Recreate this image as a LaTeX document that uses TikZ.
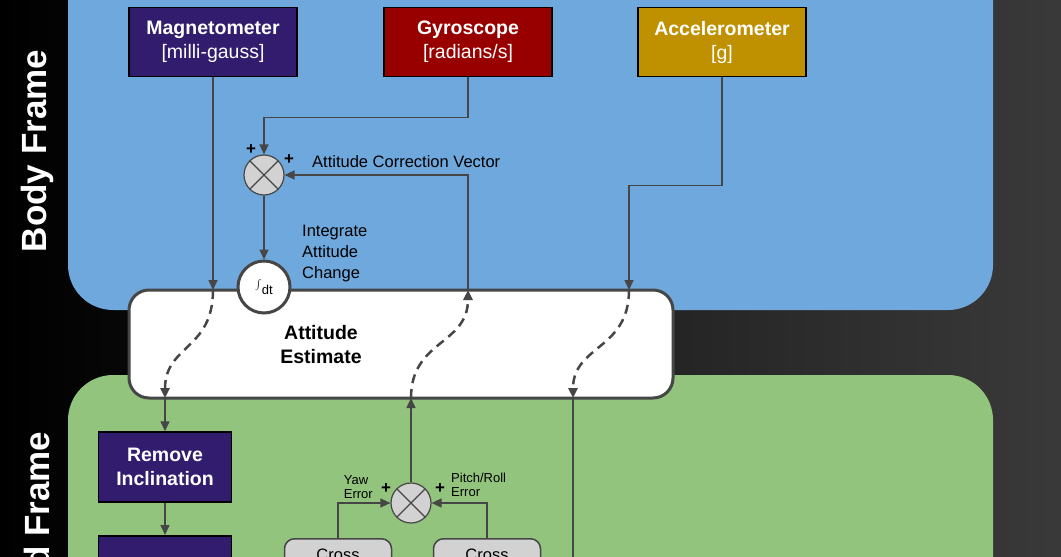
\documentclass[tikz,border=0pt]{standalone}
\usepackage{fontspec}
\setmainfont{Liberation Sans}
\usetikzlibrary{arrows.meta,positioning}
\definecolor{bodyblue}{RGB}{111,168,220}
\definecolor{worldgreen}{RGB}{147,196,125}
\definecolor{magpurple}{RGB}{50,28,110}
\definecolor{gyrored}{RGB}{152,0,0}
\definecolor{accgold}{RGB}{191,144,0}
\definecolor{linegray}{RGB}{70,70,70}
\begin{document}
\begin{tikzpicture}[x=1pt,y=-1pt,
    sensor/.style={draw=black,line width=1.5pt,minimum width=168pt,minimum height=69pt,text=white,align=center,font=\fontsize{19.5}{24}\selectfont},
    block/.style={draw=black,line width=1.5pt,fill=magpurple,minimum width=133pt,minimum height=70pt,text=white,align=center,font=\fontsize{19.5}{24}\selectfont\bfseries},
    cross/.style={draw=linegray,line width=1.5pt,fill=gray!35,rounded corners=10pt,minimum width=107pt,minimum height=60pt},
    summer/.style={circle,draw=linegray,line width=1.2pt,fill=gray!35,minimum size=40pt,inner sep=0pt,
      path picture={\draw[linegray,line width=1.2pt] (path picture bounding box.north west)--(path picture bounding box.south east)
        (path picture bounding box.north east)--(path picture bounding box.south west);}},
    flow/.style={draw=linegray,line width=1.5pt,-{Triangle[length=10pt,width=9pt]}},
    dflow/.style={flow,dash pattern=on 9pt off 6pt,line width=2.5pt},
    lbl/.style={font=\fontsize{16.5}{21}\selectfont,align=left,inner sep=0pt},
    pls/.style={font=\fontsize{17}{17}\selectfont\bfseries,inner sep=0pt},
    sml/.style={font=\fontsize{13}{14}\selectfont,align=left,inner sep=0pt}]
  \useasboundingbox (0,0) rectangle (1061,557);
  \clip (0,0) rectangle (1061,557);
  \shade[left color=black,right color=gray!45!black] (0,0) rectangle (1061,557);

  % frames
  \fill[bodyblue,rounded corners=45pt] (68,-60) rectangle (993,310);
  \fill[worldgreen,rounded corners=45pt] (68,375) rectangle (993,640);
  \node[rotate=90,text=white,font=\fontsize{35}{35}\selectfont\bfseries] (body) at (37,151) {Body Frame};
  \node[rotate=90,text=white,font=\fontsize{35}{35}\selectfont\bfseries,anchor=east] (world) at (37,428) {World Frame};

  % attitude estimate
  \node[draw=linegray,line width=3pt,fill=white,rounded corners=20pt,minimum width=544pt,minimum height=108pt] (est) at (401,344) {};
  \node[font=\fontsize{19.5}{24}\selectfont\bfseries,align=center] (estlbl) at (321,345) {Attitude\\Estimate};

  % sensors
  \node[sensor,fill=magpurple] (mag) at (213,42) {\textbf{Magnetometer}\\{[milli-gauss]}};
  \node[sensor,fill=gyrored] (gyro) at (468,42) {\textbf{Gyroscope}\\{[radians/s]}};
  \node[sensor,fill=accgold] (acc) at (722,42) {\textbf{Accelerometer}\\{[g]}};

  % gyro integration
  \node[summer] (sum1) at (264,175) {};
  \node[circle,draw=linegray,line width=3pt,fill=white,minimum size=52pt,inner sep=0pt] (int) at (264,287) {\fontsize{22}{22}\selectfont$\int$\fontsize{13}{13}\selectfont\raisebox{-4pt}{dt}};
  \node[pls] at (251,150) {+};
  \node[pls] at (289,160) {+};
  \node[lbl,anchor=west] (corrlbl) at (312,162) {Attitude Correction Vector};
  \node[lbl,anchor=west] (intlbl) at (302,254) {Integrate\\Attitude\\Change};

  \coordinate (magin) at (213,290);
  \coordinate (accin) at (629,290);
  \coordinate (corrout) at (468,290);
  \coordinate (magout) at (165,398);
  \coordinate (accout) at (573,398);
  \coordinate (corrin) at (411,398);

  \draw[flow] (gyro.south) |- ++(0,40) -| (sum1.north);
  \draw[flow] (sum1.south) -- (int.north);
  \draw[flow] (corrout) |- (sum1.east);
  \draw[flow] (mag.south) -- (magin);
  \draw[flow] (acc.south) |- ++(0,108) -| (accin);

  % into / out of estimate
  \draw[dflow] (magin) .. controls (213,350) and (165,345) .. (magout);
  \draw[dflow] (accin) .. controls (629,350) and (573,345) .. (accout);
  \draw[dflow] (corrin) .. controls (411,340) and (468,345) .. (corrout);

  % world frame
  \node[block] (incl) at (165,467) {Remove\\Inclination};
  \node[block,anchor=north] (head) at (165,535) {\\ \\};
  \node[summer] (sum2) at (411,503) {};
  \node[cross,anchor=north] (crossy) at (338,538) {};
  \node[cross,anchor=north] (crossp) at (487,538) {};
  \node[lbl,anchor=north] (crossylbl) at (338,549) {Cross};
  \node[lbl,anchor=north] (crossplbl) at (487,549) {Cross};
  \node[pls] at (386,489) {+};
  \node[pls] at (440,489) {+};
  \node[sml,anchor=east] (yawlbl) at (373,487) {Yaw\\Error};
  \node[sml,anchor=west] (pitchlbl) at (451,485) {Pitch/Roll\\Error};

  \draw[flow] (magout) -- (incl.north);
  \draw[flow] (incl.south) -- (head.north);
  \draw[flow] (sum2.north) -- (corrin);
  \draw[flow] (crossy.north) |- (sum2.west);
  \draw[flow] (crossp.north) |- (sum2.east);
  \draw[draw=linegray,line width=1.5pt] (accout) -- ++(0,200);
\end{tikzpicture}
\end{document}
